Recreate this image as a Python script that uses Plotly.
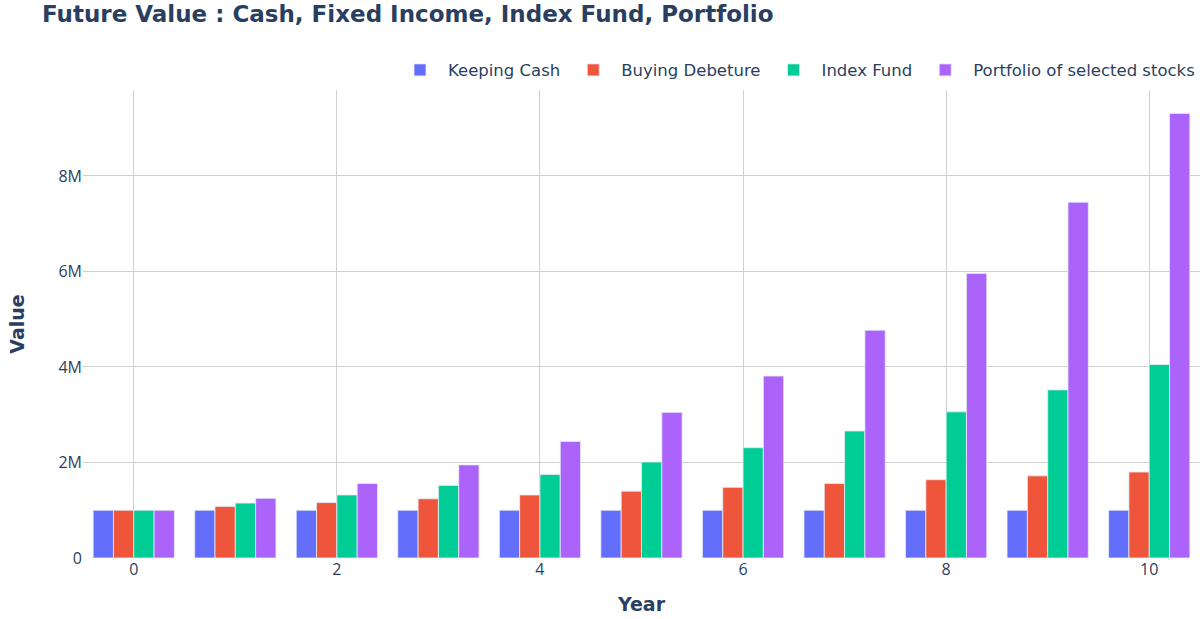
import plotly.graph_objects as go

years = [0, 1, 2, 3, 4, 5, 6, 7, 8, 9, 10]
cash = [1.0e6, 1.0e6, 1.0e6, 1.0e6, 1.0e6, 1.0e6, 1.0e6, 1.0e6, 1.0e6, 1.0e6, 1.0e6]
debenture = [1.0e6, 1.08e6, 1.16e6, 1.24e6, 1.32e6, 1.40e6, 1.48e6, 1.56e6, 1.64e6, 1.72e6, 1.80e6]
index_fund = [1.0e6, 1.15e6, 1.32e6, 1.52e6, 1.75e6, 2.01e6, 2.31e6, 2.66e6, 3.06e6, 3.52e6, 4.05e6]
portfolio = [1.0e6, 1.25e6, 1.56e6, 1.95e6, 2.44e6, 3.05e6, 3.81e6, 4.77e6, 5.96e6, 7.45e6, 9.31e6]

series = [
    ("Keeping Cash", cash, "#636efa"),
    ("Buying Debeture", debenture, "#EF553B"),
    ("Index Fund", index_fund, "#00cc96"),
    ("Portfolio of selected stocks", portfolio, "#ab63fa"),
]

fig = go.Figure()
for name, vals, col in series:
    fig.add_trace(go.Bar(x=years, y=vals, name=name,
                         marker=dict(color=col, line=dict(color="#E5ECF6", width=0.8))))

fig.update_layout(
    template="plotly",
    width=1200, height=619,
    barmode="group", bargap=0.2,
    paper_bgcolor="white", plot_bgcolor="white",
    margin=dict(l=83, r=0, t=90, b=61),
    title=dict(text="<b>Future Value : Cash, Fixed Income, Index Fund, Portfolio</b>",
               x=0.035, xanchor="left", y=0.99, yanchor="top",
               font=dict(family="Tahoma, DejaVu Sans, sans-serif", size=23, color="#2a3f5f")),
    legend=dict(orientation="h", x=1.0, xanchor="right", y=1.005, yanchor="bottom",
                itemwidth=46,
                font=dict(family="Tahoma, DejaVu Sans, sans-serif", size=16.5, color="#2a3f5f")),
    font=dict(color="#2a3f5f"),
    xaxis=dict(title=dict(text="<b>Year</b>", standoff=18,
                          font=dict(family="Verdana, DejaVu Sans", size=19)),
               gridcolor="#d0d0d0", showline=False, zeroline=False,
               tickfont=dict(size=16)),
    yaxis=dict(title=dict(text="<b>Value</b>", standoff=28,
                          font=dict(family="Verdana, DejaVu Sans", size=19)),
               dtick=2e6, gridcolor="#d0d0d0", zeroline=False, tickfont=dict(size=16)),
)

fig.write_html("out.html")
